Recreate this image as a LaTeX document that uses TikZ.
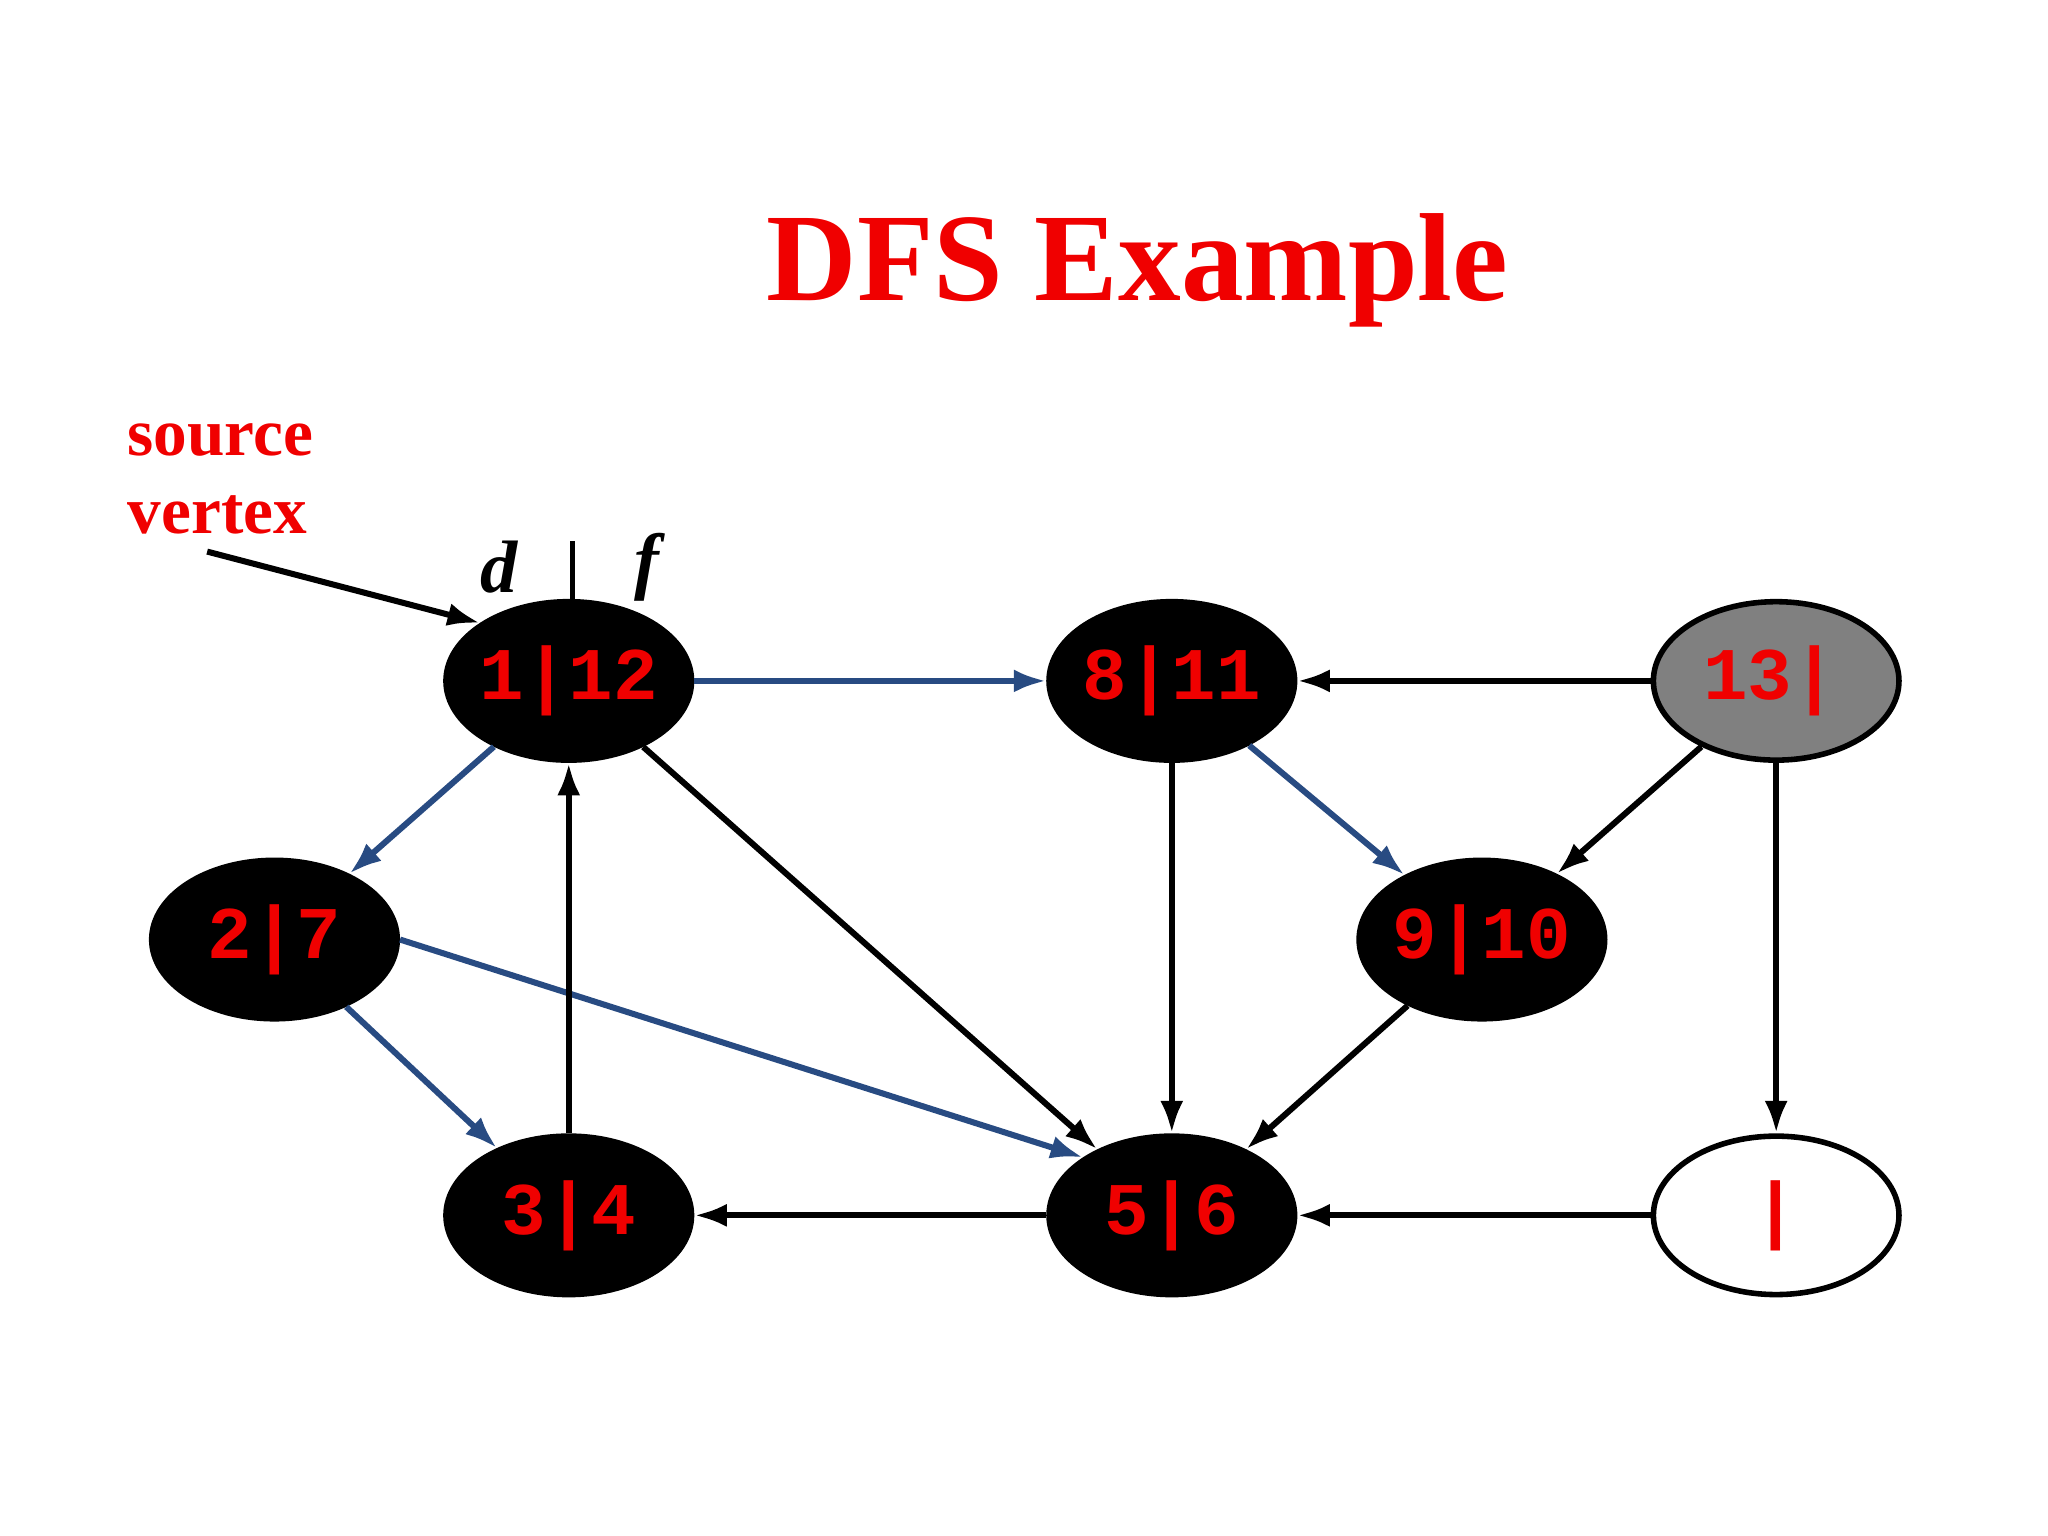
\documentclass[tikz,border=0pt]{standalone}
\usepackage{fontspec}
\setmainfont{Liberation Serif}
\newfontfamily\monob{Liberation Mono}
\usetikzlibrary{shapes.geometric,arrows.meta}
\definecolor{dfsred}{RGB}{240,0,0}
\definecolor{treeblue}{RGB}{40,75,130}
\tikzset{
 vtx/.style={ellipse,minimum width=1.86cm,minimum height=1.2cm,inner sep=0pt,draw=black,line width=1.2pt,fill=black,font=\monob\bfseries\fontsize{16}{16}\selectfont,text=dfsred},
 tree/.style={draw=treeblue,line width=1.3pt,-{Latex[length=7pt,width=5pt]}},
 oth/.style={draw=black,line width=1.3pt,-{Latex[length=7pt,width=5pt]}}
}
\newcommand{\vl}[1]{\makebox[0pt]{#1}}
\begin{document}
\begin{tikzpicture}[x=0.01cm,y=-0.01cm]
\useasboundingbox (0,0) rectangle (1552,1164);
\node[text=dfsred,font=\bfseries\fontsize{27}{27}\selectfont] (title) at (862,205) {DFS Example};
\node[text=dfsred,font=\bfseries\fontsize{14.5}{17}\selectfont,align=left,anchor=north west,inner sep=0pt] (src) at (96,320) {source\\vertex};
\coordinate (srcend) at (157,418);
\node[font=\bfseries\itshape\fontsize{16}{16}\selectfont] (d) at (378,430) {d};
\node[font=\bfseries\itshape\fontsize{16}{16}\selectfont] (f) at (490,430) {f};
\coordinate (bt) at (434,410);
\coordinate (bb) at (434,456);
\node[vtx] (n1) at (431,516) {\vl{1|12}};
\node[vtx] (n8) at (888,516) {\vl{8|11}};
\node[vtx,fill=gray] (n13) at (1346,516) {\vl{13|\,}};
\node[vtx] (n2) at (208,712) {\vl{2|7}};
\node[vtx] (n9) at (1123,712) {\vl{9|10}};
\node[vtx] (n3) at (431,921) {\vl{3|4}};
\node[vtx] (n5) at (888,921) {\vl{5|6}};
\node[vtx,fill=white] (ne) at (1346,921) {\vl{|}};
\draw[line width=1.2pt] (bt) -- (bb);
\draw[oth] (srcend) -- (n1.north west);
\draw[tree] (n1) -- (n8);
\draw[tree] (n1) -- (n2);
\draw[tree] (n2) -- (n3);
\draw[tree] (n2.east) -- (n5.north west);
\draw[tree] (n8) -- (n9);
\draw[oth] (n13) -- (n8);
\draw[oth] (n13) -- (n9);
\draw[oth] (n13) -- (ne);
\draw[oth] (n3) -- (n1);
\draw[oth] (n1) -- (n5);
\draw[oth] (n8) -- (n5);
\draw[oth] (n9) -- (n5);
\draw[oth] (n5) -- (n3);
\draw[oth] (ne) -- (n5);
\end{tikzpicture}
\end{document}
